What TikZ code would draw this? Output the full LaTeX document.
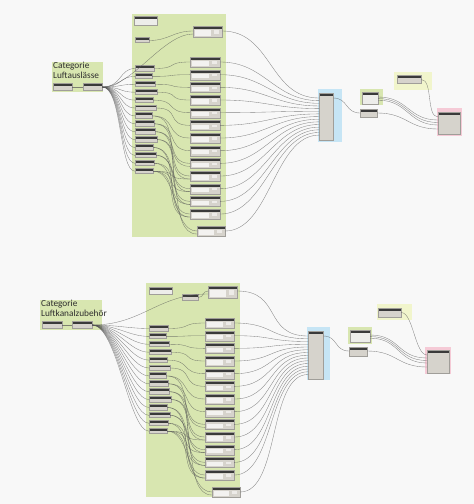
\documentclass[tikz,border=0pt]{standalone}
\usepackage{fontspec}
\setmainfont{Carlito}
\definecolor{bg}{HTML}{F8F8F8}
\definecolor{grpgreen}{HTML}{D8E6B0}
\definecolor{grpblue}{HTML}{C6E5F5}
\definecolor{grpyellow}{HTML}{F1F5CC}
\definecolor{grppink}{HTML}{F5CAD6}
\definecolor{nbody}{HTML}{D6D3CC}
\definecolor{nlight}{HTML}{EDEDEA}
\definecolor{nhead}{HTML}{3A3A3A}
\definecolor{wirec}{HTML}{555555}
\definecolor{titlec}{HTML}{2E2E2E}
\tikzset{
 dnode/.style={rectangle, fill=nbody, draw=nbody!75!black, line width=0.2pt, inner sep=0pt, anchor=north west,
   path picture={\fill[nhead] (path picture bounding box.north west) rectangle ([yshift=-2.8pt]path picture bounding box.north east);}},
 fnode/.style={dnode,
   path picture={\fill[nhead] (path picture bounding box.north west) rectangle ([yshift=-2.8pt]path picture bounding box.north east);
     \fill[white!70!nbody] ([xshift=2pt,yshift=-4.3pt]path picture bounding box.north west) rectangle ([xshift=-11pt,yshift=1.5pt]path picture bounding box.south east);
     \fill[white!55!nbody] ([xshift=-8pt,yshift=-4.3pt]path picture bounding box.north east) rectangle ([xshift=-3pt,yshift=3.5pt]path picture bounding box.south east);}},
 lnode/.style={dnode, fill=nlight},
 wire/.style={draw=wirec, line width=0.35pt, opacity=0.7},
 title/.style={anchor=north west, inner sep=0pt, align=left, text=titlec, font=\fontsize{9.3}{10}\selectfont},
}
\newcommand\dyn[6][dnode]{\node[#1,minimum width=#5pt,minimum height=#6pt] (#2) at (#3,#4) {};}
\begin{document}
\begin{tikzpicture}[x=1pt,y=-1pt]
\fill[bg] (0,0) rectangle (474,504);
\useasboundingbox (0,0) rectangle (474,504);

% ================= TOP GRAPH =================
\fill[grpgreen] (52,62) rectangle (103,92);
\fill[grpgreen] (132,14) rectangle (226,237);
\fill[grpblue] (318,89) rectangle (342,142);
\fill[grpgreen] (360,89) rectangle (383,105);
\fill[grpyellow] (394,72) rectangle (432,90);
\fill[grppink] (437,108) rectangle (462,136);

\node[title] (t1) at (53,62) {Categorie\\Luftauslässe};
\dyn{c1}{53}{83}{19}{7}
\dyn{c2}{83}{83}{19}{7}
\draw[wire] ([yshift=-4.5pt]c1.north east) .. controls +(5,0) and +(-5,0) .. ([yshift=-4.5pt]c2.north west);

\dyn[lnode]{ts}{134}{16}{23}{9}
\dyn{lt}{135}{37}{14}{5}
\dyn[fnode]{rt}{193}{26}{29}{11}
\foreach \i/\w in {1/19,2/17,3/20,4/22,5/18,6/21,7/17,8/19,9/20,10/22,11/18,12/21,13/19,14/18}{
  \pgfmathsetmacro\yy{65+(\i-1)*7.9}
  \dyn{l\i}{135}{\yy}{\w}{5.5}
}
\foreach \j in {1,...,13}{
  \pgfmathsetmacro\yy{57+(\j-1)*12.67}
  \dyn[fnode]{r\j}{190}{\yy}{30}{10}
}
\dyn[fnode]{r14}{197}{226}{28}{10}
\dyn{bl}{319}{93}{14}{47}
\dyn[lnode]{gn}{362}{92}{16}{12}
\dyn{gy}{360}{109}{17}{8}
\dyn{yn}{397}{75}{24}{8}
\dyn{pk}{438}{112}{22}{22}

% wires
\foreach \i in {1,...,14}
  \draw[wire] ([yshift=-4pt]c2.north east) .. controls +(20,0) and +(-16,0) .. ([yshift=-3.5pt]l\i.north west);
\draw[wire] ([yshift=-4pt]c2.north east) .. controls +(30,0) and +(-30,0) .. ([yshift=-8pt]rt.north west);
\draw[wire] ([yshift=-3.5pt]lt.north east) .. controls +(20,0) and +(-20,0) .. ([yshift=-5pt]rt.north west);
\foreach \i in {1,...,14}
  \draw[wire] ([yshift=-3.5pt]l\i.north east) .. controls +(25,0) and +(-25,0) .. ([yshift=-5pt]r\i.north west);
\foreach \a/\b in {9/11,10/12,11/13,12/14,13/12,14/10,14/11,14/13,8/10,7/9}
  \draw[wire] ([yshift=-3.5pt]l\a.north east) .. controls +(30,0) and +(-30,0) .. ([yshift=-8pt]r\b.north west);
\draw[wire] ([yshift=-5pt]rt.north east) .. controls +(50,0) and +(-50,0) .. ([yshift=-5pt]bl.north west);
\foreach \j in {1,...,14}{
  \pgfmathsetmacro\dy{-(5+\j*2.65)}
  \draw[wire] ([yshift=-5pt]r\j.north east) .. controls +(45,0) and +(-45,0) .. ([yshift=\dy pt]bl.north west);
}
\draw[wire] ([yshift=-5pt]bl.north east) .. controls +(15,0) and +(-15,0) .. ([yshift=-4pt]gy.north west);
\foreach \k in {0,1,2}{
  \pgfmathsetmacro\da{-(5+\k*1.6)}
  \pgfmathsetmacro\db{-(8+\k*2.5)}
  \draw[wire] ([yshift=\da pt]gn.north east) .. controls +(30,0) and +(-30,0) .. ([yshift=\db pt]pk.north west);
}
\draw[wire] ([yshift=-4pt]gy.north east) .. controls +(30,0) and +(-30,0) .. ([yshift=-17pt]pk.north west);
\draw[wire] ([yshift=-4.5pt]yn.north east) .. controls +(12,0) and +(-12,0) .. ([yshift=-5pt]pk.north west);

% ================= BOTTOM GRAPH =================
\fill[grpgreen] (40,300) rectangle (102,330);
\fill[grpgreen] (146,283) rectangle (240,497);
\fill[grpblue] (307,327) rectangle (330,380);
\fill[grpgreen] (348,327) rectangle (372,344);
\fill[grpyellow] (377,304) rectangle (412,320);
\fill[grppink] (425,347) rectangle (451,374);

\node[title] (t2) at (41,300) {Categorie\\Luftkanalzubehör};
\dyn{bc1}{42}{321}{20}{7}
\dyn{bc2}{72}{321}{20}{7}
\draw[wire] ([yshift=-4.5pt]bc1.north east) .. controls +(5,0) and +(-5,0) .. ([yshift=-4.5pt]bc2.north west);

\dyn[lnode]{bts}{149}{287}{23}{7}
\dyn{blt}{182}{294}{16}{6}
\dyn[fnode]{brt}{208}{286}{29}{12}
\foreach \i/\w in {1/19,2/17,3/20,4/22,5/18,6/21,7/17,8/19,9/20,10/22,11/18,12/21,13/19,14/18}{
  \pgfmathsetmacro\yy{325+(\i-1)*7.9}
  \dyn{bl\i}{149}{\yy}{\w}{5.5}
}
\foreach \j in {1,...,13}{
  \pgfmathsetmacro\yy{318+(\j-1)*12.67}
  \dyn[fnode]{br\j}{205}{\yy}{29}{10}
}
\dyn[fnode]{br14}{212}{487}{28}{10}
\dyn{bbl}{308}{331}{15}{48}
\dyn[lnode]{bgn}{350}{330}{20}{12}
\dyn{bgy}{349}{347}{18}{9}
\dyn{byn}{378}{308}{23}{9}
\dyn{bpk}{427}{350}{22}{23}

\foreach \i in {1,...,14}
  \draw[wire] ([yshift=-4pt]bc2.north east) .. controls +(25,0) and +(-20,0) .. ([yshift=-3.5pt]bl\i.north west);
\draw[wire] ([yshift=-4pt]bc2.north east) .. controls +(50,0) and +(-50,0) .. ([yshift=-8pt]brt.north west);
\draw[wire] ([yshift=-3.5pt]blt.north east) .. controls +(6,0) and +(-6,0) .. ([yshift=-5pt]brt.north west);
\foreach \i in {1,...,14}
  \draw[wire] ([yshift=-3.5pt]bl\i.north east) .. controls +(25,0) and +(-25,0) .. ([yshift=-5pt]br\i.north west);
\foreach \a/\b in {9/11,10/12,11/13,12/14,13/12,14/10,14/11,14/13,8/10,7/9}
  \draw[wire] ([yshift=-3.5pt]bl\a.north east) .. controls +(30,0) and +(-30,0) .. ([yshift=-8pt]br\b.north west);
\draw[wire] ([yshift=-5pt]brt.north east) .. controls +(45,0) and +(-45,0) .. ([yshift=-5pt]bbl.north west);
\foreach \j in {1,...,14}{
  \pgfmathsetmacro\dy{-(5+\j*2.75)}
  \draw[wire] ([yshift=-5pt]br\j.north east) .. controls +(40,0) and +(-40,0) .. ([yshift=\dy pt]bbl.north west);
}
\draw[wire] ([yshift=-5pt]bbl.north east) .. controls +(15,0) and +(-15,0) .. ([yshift=-4pt]bgy.north west);
\foreach \k in {0,1,2}{
  \pgfmathsetmacro\da{-(5+\k*1.6)}
  \pgfmathsetmacro\db{-(8+\k*2.5)}
  \draw[wire] ([yshift=\da pt]bgn.north east) .. controls +(30,0) and +(-30,0) .. ([yshift=\db pt]bpk.north west);
}
\draw[wire] ([yshift=-4pt]bgy.north east) .. controls +(30,0) and +(-30,0) .. ([yshift=-17pt]bpk.north west);
\draw[wire] ([yshift=-4.5pt]byn.north east) .. controls +(12,0) and +(-12,0) .. ([yshift=-5pt]bpk.north west);
\end{tikzpicture}
\end{document}
